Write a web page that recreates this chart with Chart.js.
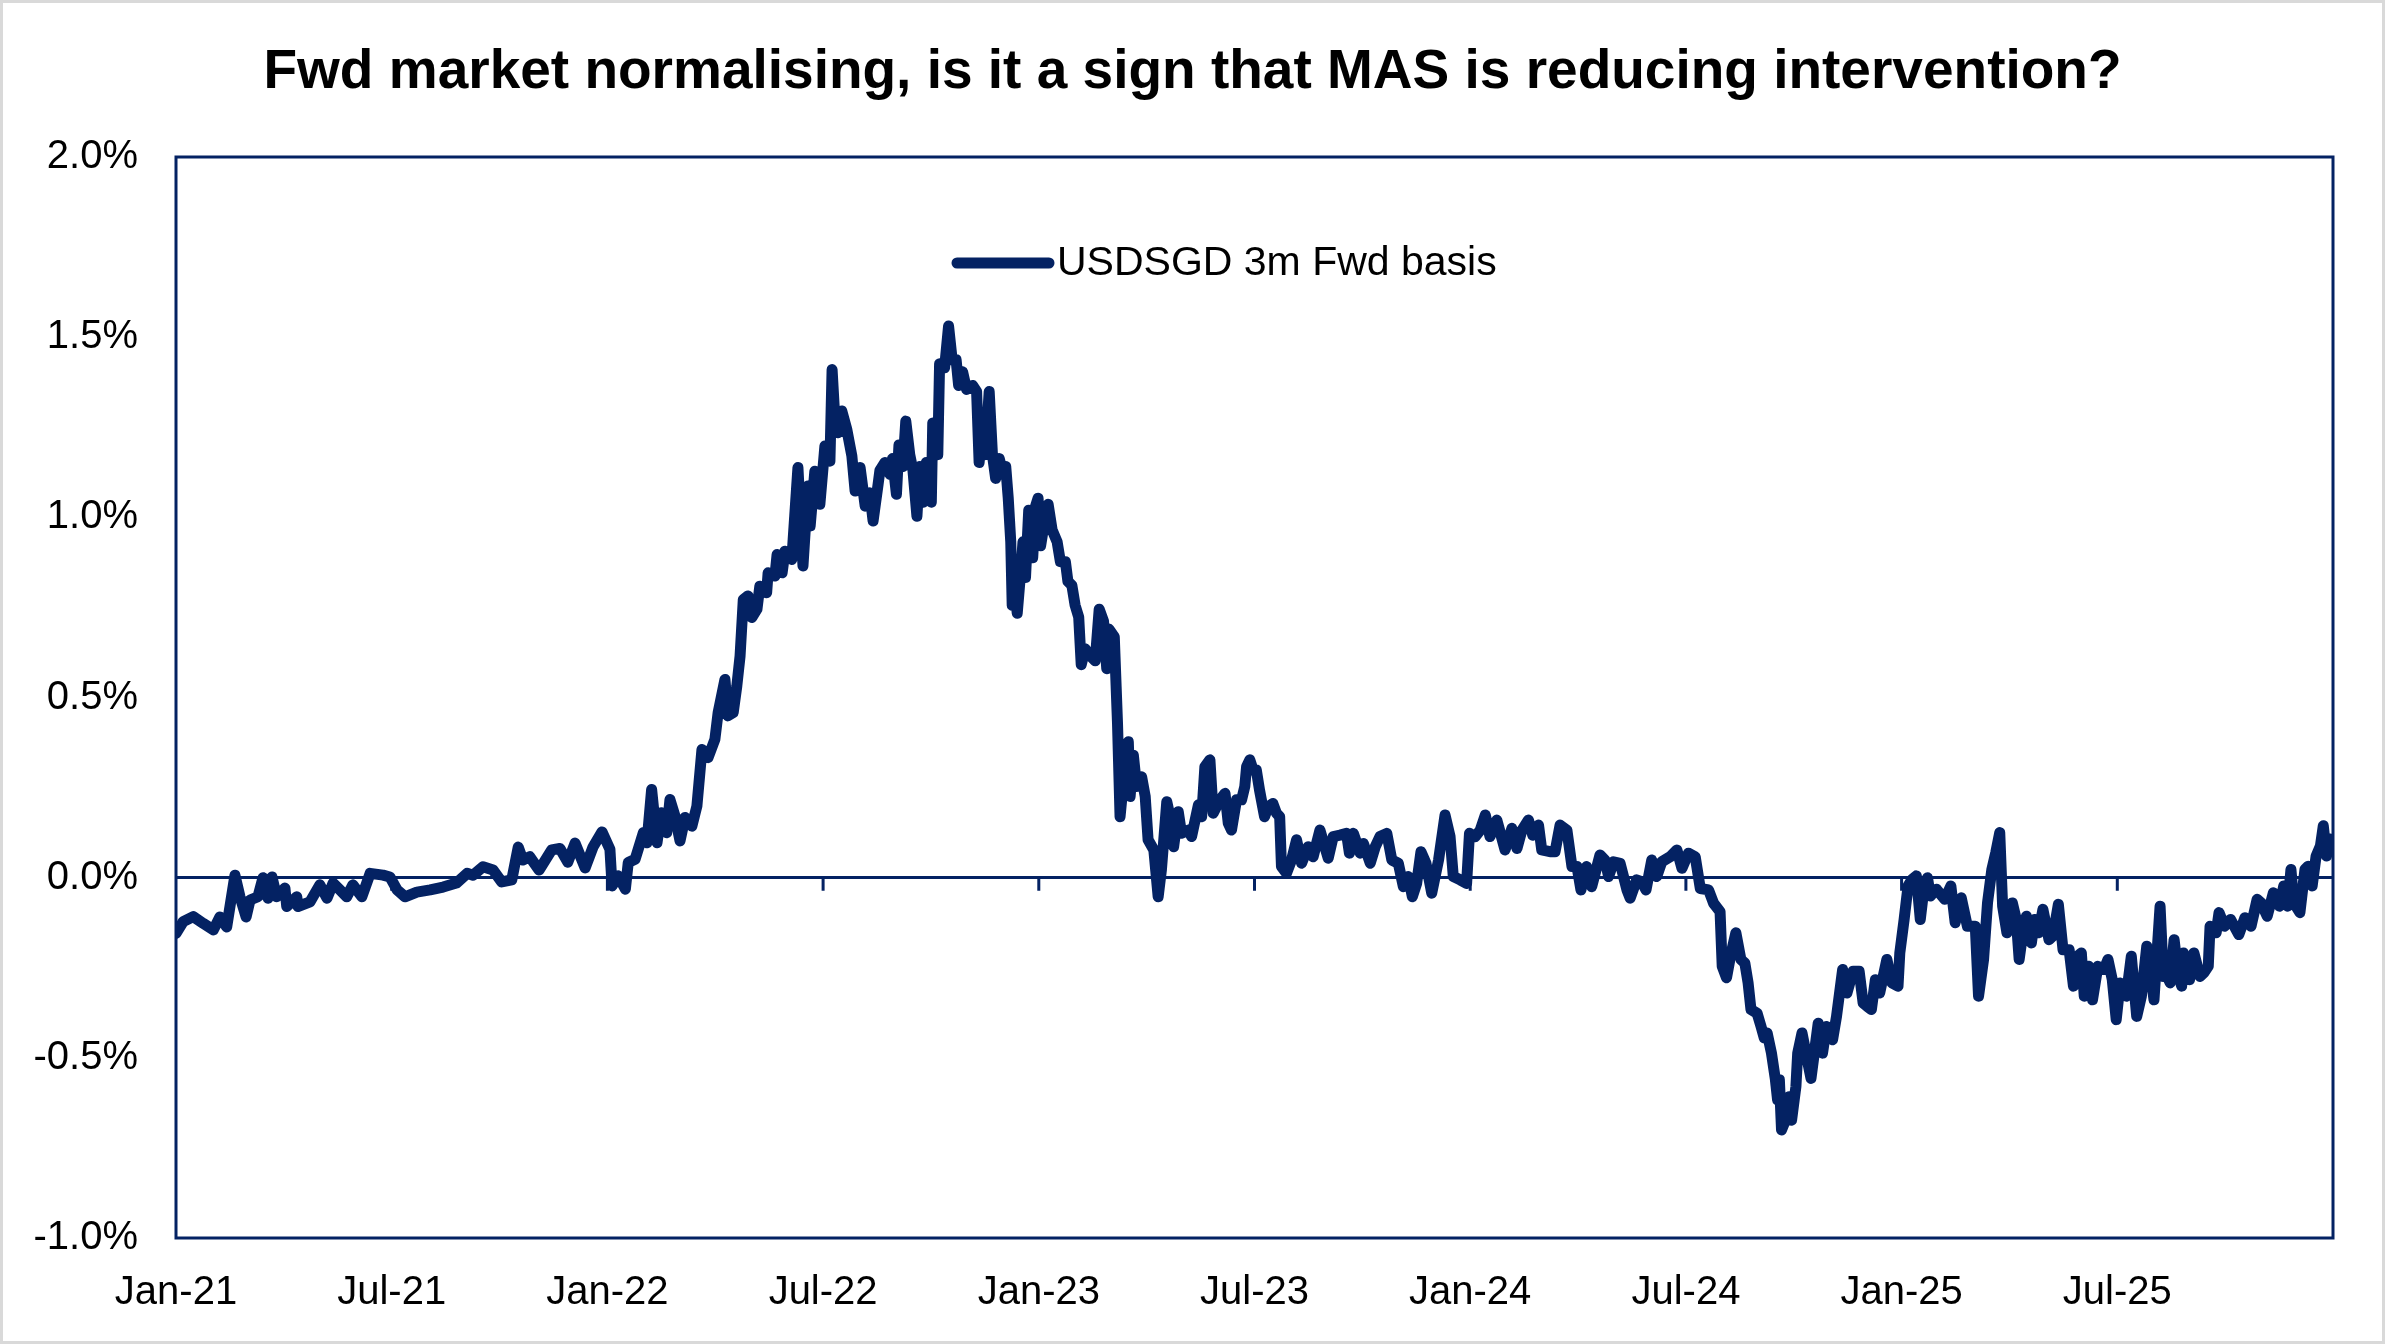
<!DOCTYPE html>
<html><head><meta charset="utf-8">
<script src="https://cdn.jsdelivr.net/npm/chart.js@4.4.1/dist/chart.umd.min.js"></script>
<style>
html,body{margin:0;padding:0;background:#fff;}
#wrap{width:2385px;height:1344px;box-sizing:border-box;border:3px solid #d9d9d9;background:#fff;}
canvas{display:block;}
</style></head><body>
<div id="wrap"><canvas id="c" width="2379" height="1338"></canvas></div>
<script>
const chartTitle = 'Fwd market normalising, is it a sign that MAS is reducing intervention?';
const seriesLabel = 'USDSGD 3m Fwd basis';
const tickLabels = ['Jan-21','Jul-21','Jan-22','Jul-22','Jan-23','Jul-23','Jan-24','Jul-24','Jan-25','Jul-25'];
// months elapsed since 1 Jan 2021
const months = [
0,0.2,0.48,0.76,1.04,1.22,1.41,1.64,1.78,1.95,2.06,2.28,2.42,2.56,2.67,2.8,3.03,3.08,3.36,3.39,3.73,4.0,4.2,4.37,4.56,4.75,4.92,5.17,5.4,5.76,5.95,6.15,6.37,6.7,7.07,7.43,7.8,8.1,8.26,8.54,8.82,9.06,9.34,9.52,9.65,9.84,10.1,10.45,10.68,10.9,11.1,11.38,11.6,11.85,
12.07,12.13,12.3,12.5,12.58,12.77,13.0,13.1,13.23,13.38,13.5,13.65,13.74,13.88,14.02,14.16,14.35,14.49,14.63,14.8,14.99,15.08,15.27,15.35,15.5,15.6,15.69,15.78,15.91,16.02,16.16,16.24,16.43,16.47,16.66,16.72,16.86,16.94,17.13,17.3,17.44,17.58,17.64,17.77,17.91,18.05,18.19,18.25,18.34,18.42,18.52,18.66,18.8,18.89,19.03,19.17,19.3,19.39,19.53,
19.58,19.72,19.86,19.93,20.04,20.11,20.22,20.3,20.41,20.5,20.61,20.69,20.78,20.87,21.01,21.05,21.19,21.24,21.38,21.49,21.59,21.7,21.77,21.88,21.99,22.16,22.27,22.34,22.44,22.51,22.62,22.71,22.8,22.9,23.01,23.08,23.15,23.22,23.26,23.34,23.4,23.52,23.56,23.63,23.72,23.83,23.91,23.98,24.05,24.14,24.26,24.37,24.51,24.6,24.74,24.81,24.92,25.01,25.11,25.18,25.29,25.46,25.57,25.68,25.8,25.89,25.95,26.1,
26.19,26.26,26.35,26.49,26.54,26.63,26.72,26.86,26.96,27.04,27.2,27.32,27.41,27.56,27.65,27.75,27.88,27.97,28.16,28.25,28.44,28.53,28.62,28.76,28.85,29.04,29.18,29.27,29.36,29.5,29.64,29.73,29.78,29.87,29.96,30.05,30.14,30.28,30.38,30.51,30.61,30.7,30.75,30.89,31.03,31.17,31.31,31.49,31.63,31.82,32.05,32.19,32.38,32.56,32.64,
32.75,32.94,33.03,33.22,33.36,33.49,33.68,33.82,34.0,34.14,34.28,34.39,34.51,34.63,34.77,34.93,35.12,35.3,35.44,35.53,35.72,35.9,35.98,36.14,36.28,36.42,36.55,36.74,36.97,37.16,37.3,37.44,37.62,37.74,37.9,37.99,38.22,38.36,38.5,38.69,38.83,38.97,39.08,39.24,39.38,39.61,39.75,39.85,39.99,40.17,40.36,40.45,40.63,40.77,40.89,41.05,41.19,41.33,41.56,41.75,41.89,42.07,42.26,42.4,42.63,42.77,42.95,
43.01,43.13,43.24,43.39,43.53,43.64,43.73,43.81,43.98,44.09,44.18,44.26,44.38,44.49,44.55,44.6,44.66,44.77,44.87,44.94,45.06,45.11,45.23,45.34,45.48,45.68,45.8,45.91,46.08,46.19,46.36,46.48,46.65,46.82,46.93,47.04,47.16,47.27,47.39,47.59,47.73,47.9,47.95,48.07,48.18,48.29,48.41,48.52,48.63,48.72,48.8,48.97,49.2,49.37,49.49,49.66,49.83,49.94,50.05,50.14,50.28,50.39,50.51,50.62,50.73,50.81,50.93,51.08,51.19,51.27,51.36,51.47,51.61,51.7,51.81,51.93,52.1,52.21,52.36,52.49,52.66,52.78,52.89,53.0,53.08,53.2,53.31,53.46,53.63,53.74,53.86,53.97,54.08,54.25,54.39,54.54,54.67,54.82,54.94,55.02,55.19,55.28,55.39,55.47,55.58,55.7,55.79,55.84,56.01,56.13,56.3,56.41,56.53,56.58,56.75,56.83,56.98,57.15,57.38,57.55,57.72,57.89,58.0,58.17,58.34,58.51,58.63,58.74,58.83,58.91,59.08,59.22,59.31,59.42,59.53,59.65,59.73,59.82,59.93
];
// USDSGD 3m forward basis, %
const basis = [
-0.155,-0.122,-0.108,-0.127,-0.145,-0.109,-0.137,0.007,-0.053,-0.109,-0.062,-0.053,0.0,-0.057,0.002,-0.053,-0.029,-0.08,-0.053,-0.08,-0.067,-0.02,-0.057,-0.015,-0.034,-0.053,-0.02,-0.053,0.012,0.007,0.002,-0.034,-0.053,-0.04,-0.034,-0.026,-0.015,0.012,0.007,0.03,0.021,-0.012,-0.006,0.085,0.049,0.058,0.021,0.077,0.081,0.043,0.096,0.027,0.085,0.127,
0.079,-0.023,0.005,-0.032,0.042,0.051,0.125,0.097,0.245,0.097,0.18,0.125,0.217,0.171,0.102,0.167,0.143,0.199,0.356,0.333,0.384,0.458,0.55,0.449,0.458,0.532,0.615,0.772,0.782,0.722,0.745,0.809,0.791,0.846,0.837,0.897,0.846,0.906,0.883,1.138,0.865,1.087,0.976,1.128,1.036,1.198,1.156,1.41,1.25,1.235,1.295,1.244,1.17,1.073,1.138,1.031,1.068,0.99,1.092,
1.13,1.152,1.119,1.163,1.064,1.201,1.141,1.267,1.174,1.13,1.003,1.141,1.042,1.152,1.042,1.262,1.174,1.426,1.415,1.531,1.437,1.437,1.366,1.404,1.355,1.366,1.349,1.152,1.273,1.174,1.349,1.174,1.108,1.163,1.119,1.141,1.053,0.932,0.756,0.789,0.734,0.877,0.932,0.833,1.02,0.888,1.031,1.053,0.921,0.976,1.036,0.965,0.932,0.877,0.877,0.822,0.811,0.756,0.723,0.591,0.635,0.613,0.602,0.745,0.712,0.58,0.69,0.668,
0.426,0.169,0.262,0.377,0.225,0.34,0.253,0.28,0.225,0.105,0.077,-0.053,0.021,0.211,0.169,0.086,0.183,0.123,0.132,0.114,0.202,0.169,0.308,0.327,0.179,0.216,0.234,0.151,0.132,0.216,0.216,0.253,0.308,0.327,0.299,0.299,0.243,0.169,0.197,0.206,0.179,0.169,0.031,0.012,0.049,0.105,0.04,0.086,0.058,0.132,0.054,0.114,0.118,0.123,0.068,
0.123,0.068,0.095,0.04,0.086,0.114,0.123,0.049,0.04,-0.025,0.003,-0.053,-0.016,0.072,0.04,-0.043,0.049,0.174,0.114,0.003,-0.006,-0.016,0.123,0.114,0.132,0.174,0.114,0.16,0.077,0.137,0.081,0.132,0.16,0.118,0.146,0.077,0.072,0.072,0.146,0.132,0.031,0.031,-0.034,0.031,-0.025,0.063,0.049,0.003,0.044,0.04,-0.034,-0.057,-0.006,-0.011,-0.034,0.049,0.003,0.044,0.058,0.077,0.026,0.068,0.058,-0.03,-0.034,-0.071,-0.094,
-0.246,-0.278,-0.218,-0.153,-0.227,-0.237,-0.292,-0.366,-0.376,-0.413,-0.445,-0.431,-0.487,-0.561,-0.617,-0.561,-0.7,-0.673,-0.608,-0.673,-0.58,-0.487,-0.431,-0.487,-0.557,-0.404,-0.487,-0.413,-0.45,-0.385,-0.255,-0.32,-0.26,-0.26,-0.348,-0.357,-0.366,-0.283,-0.32,-0.227,-0.292,-0.301,-0.209,-0.116,-0.023,-0.005,0.005,-0.116,-0.023,0.0,-0.051,-0.032,-0.06,-0.023,-0.125,-0.056,-0.135,-0.135,-0.135,-0.329,-0.227,-0.07,0.023,0.07,0.125,-0.079,-0.153,-0.07,-0.116,-0.227,-0.162,-0.107,-0.181,-0.116,-0.153,-0.088,-0.172,-0.162,-0.074,-0.2,-0.2,-0.301,-0.218,-0.209,-0.329,-0.246,-0.339,-0.246,-0.255,-0.227,-0.283,-0.394,-0.292,-0.329,-0.218,-0.385,-0.329,-0.19,-0.274,-0.339,-0.079,-0.274,-0.274,-0.292,-0.172,-0.274,-0.301,-0.209,-0.283,-0.209,-0.274,-0.264,-0.246,-0.135,-0.153,-0.097,-0.135,-0.116,-0.158,-0.111,-0.135,-0.06,-0.07,-0.107,-0.042,-0.079,-0.023,-0.079,0.023,-0.07,-0.097,0.023,0.032,-0.023,0.06,0.088,0.144,0.06,0.107
];
const tickMonths = tickLabels.map((_, i) => i * 6);

const NAVY = '#042263';
const FONT = "'Liberation Sans', Arial, Helvetica, sans-serif";

const framePlugin = {
  id: 'frame',
  beforeDatasetsDraw(chart) {
    const {ctx, scales: {x, y}} = chart;
    const y0 = y.getPixelForValue(0);
    ctx.save();
    ctx.strokeStyle = NAVY;
    ctx.lineWidth = 3;
    ctx.beginPath();
    tickMonths.forEach(m => {
      if (m <= x.min || m >= x.max) return;
      const px = x.getPixelForValue(m);
      ctx.moveTo(px, y0);
      ctx.lineTo(px, y0 + 13);
    });
    ctx.stroke();
    ctx.restore();
  },
  afterDatasetsDraw(chart) {
    const {ctx, chartArea: a} = chart;
    ctx.save();
    ctx.strokeStyle = NAVY;
    ctx.lineWidth = 3;
    ctx.strokeRect(a.left, a.top, a.right - a.left, a.bottom - a.top);
    // legend
    const ly = a.top + 106;
    const lx = a.left + 781;
    ctx.lineWidth = 11;
    ctx.lineCap = 'round';
    ctx.beginPath();
    ctx.moveTo(lx, ly);
    ctx.lineTo(lx + 92, ly);
    ctx.stroke();
    ctx.fillStyle = '#000';
    ctx.font = '41px ' + FONT;
    ctx.textBaseline = 'middle';
    ctx.textAlign = 'left';
    ctx.fillText(chart.data.datasets[0].label, lx + 100, ly + 1);
    ctx.restore();
  }
};

new Chart(document.getElementById('c'), {
  type: 'line',
  data: {
    datasets: [{
      label: seriesLabel,
      data: months.map((m, i) => ({x: m, y: basis[i]})),
      borderColor: NAVY,
      backgroundColor: NAVY,
      borderWidth: 11,
      pointRadius: 0,
      tension: 0,
      fill: false,
      borderJoinStyle: 'round',
      borderCapStyle: 'round'
    }]
  },
  options: {
    responsive: false,
    devicePixelRatio: 1,
    animation: false,
    layout: {padding: 0},
    plugins: {
      legend: {display: false},
      tooltip: {enabled: false},
      title: {
        display: true,
        text: chartTitle,
        color: '#000',
        font: {family: FONT, size: 55, weight: 'bold'},
        padding: {top: 37, bottom: 51}
      }
    },
    scales: {
      x: {
        type: 'linear',
        min: 0,
        max: 60,
        afterBuildTicks: s => { s.ticks = tickMonths.map(v => ({value: v})); },
        afterFit: s => { s.height = 103; },
        grid: {display: false, drawTicks: false},
        border: {display: false},
        ticks: {
          autoSkip: false,
          maxRotation: 0,
          padding: 31,
          color: '#000',
          font: {family: FONT, size: 40},
          callback: v => tickLabels[Math.round(v / 6)] || ''
        }
      },
      y: {
        min: -1,
        max: 2,
        afterFit: s => { s.width = 173; },
        grid: {
          drawTicks: false,
          lineWidth: 3,
          color: c => Math.abs(c.tick.value) < 1e-9 ? NAVY : 'rgba(0,0,0,0)'
        },
        border: {display: false},
        ticks: {
          stepSize: 0.5,
          padding: 38,
          color: '#000',
          font: {family: FONT, size: 40},
          callback: v => v.toFixed(1) + '%'
        }
      },
      yRight: {
        position: 'right',
        min: -1,
        max: 2,
        afterFit: s => { s.width = 49; },
        grid: {display: false, drawTicks: false},
        border: {display: false},
        ticks: {display: false}
      }
    }
  },
  plugins: [framePlugin]
});
</script>
</body></html>
